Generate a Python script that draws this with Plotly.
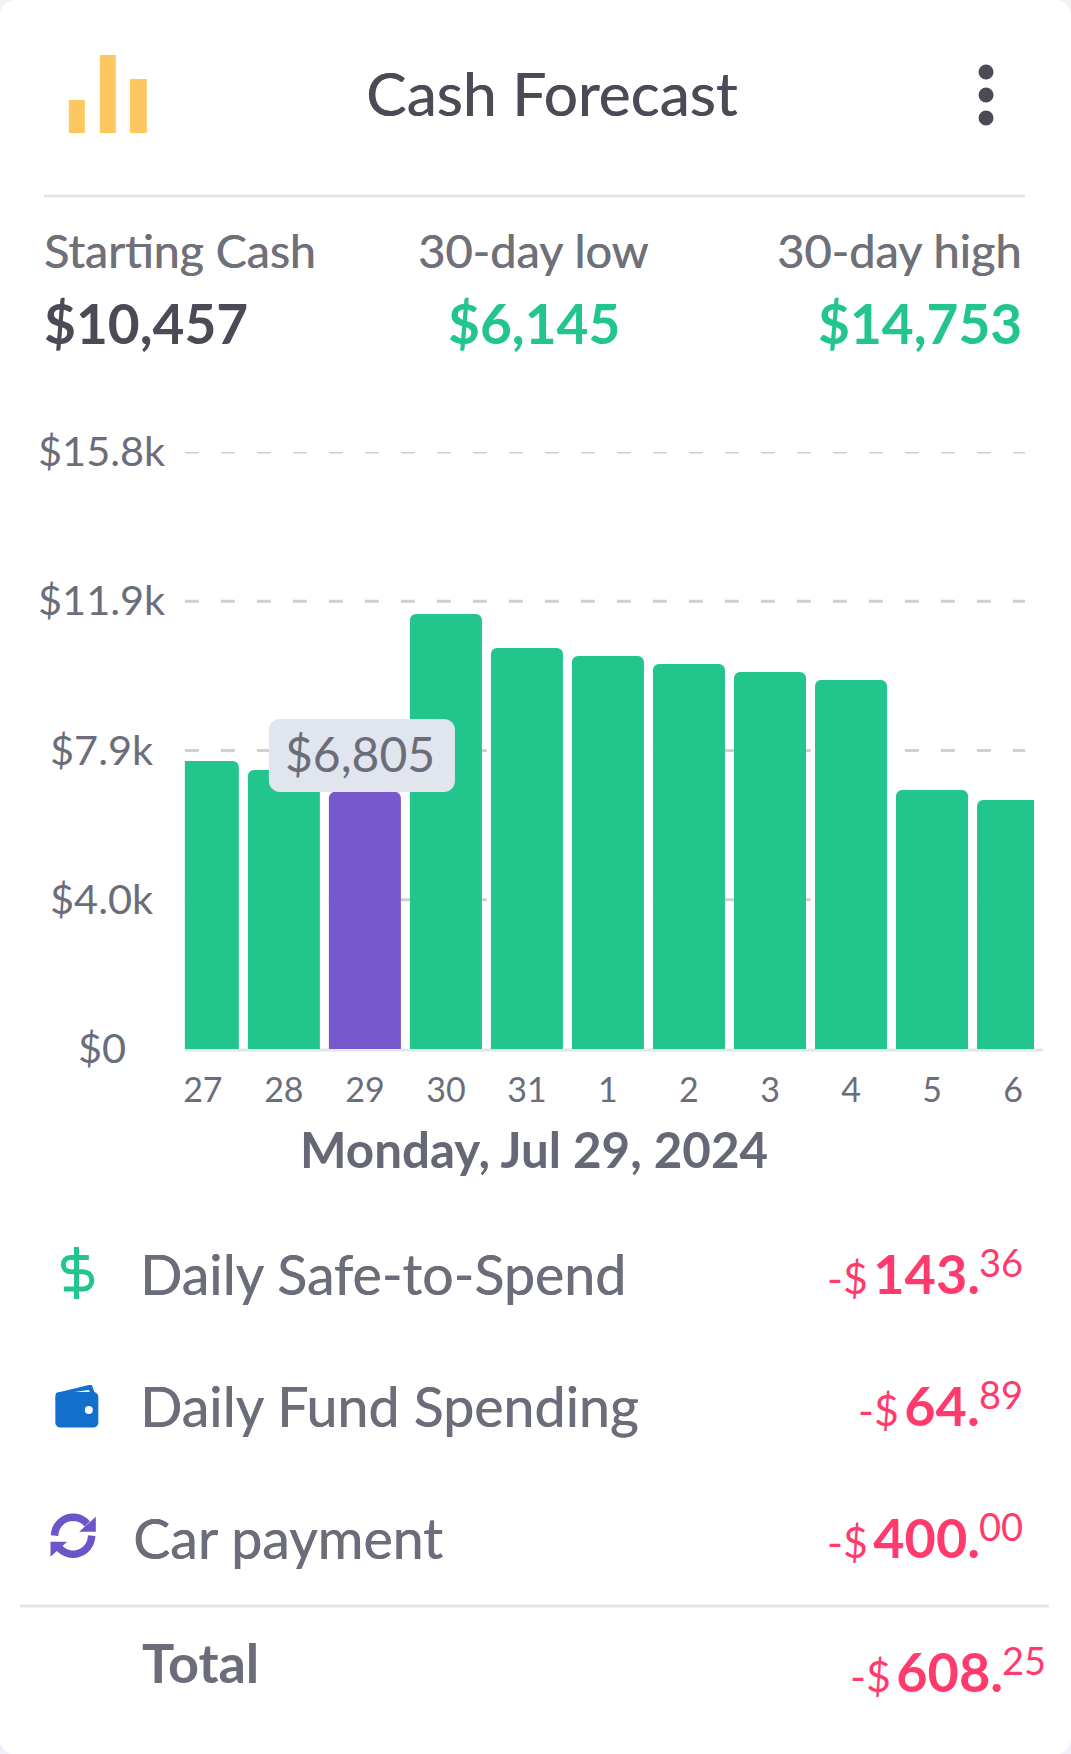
import math
import plotly.graph_objects as go

# page size of the card
W = 1071
H = 1754

# chart values
days = ['27', '28', '29', '30', '31', '1', '2', '3', '4', '5', '6']
balances = [7622, 7384, 6805, 11513, 10613, 10401, 10190, 9978, 9766, 6855, 6590]
selected_day = 2

y_ticks = [0, 3950, 7900, 11850, 15800]
y_tick_labels = ['$0', '$4.0k', '$7.9k', '$11.9k', '$15.8k']

# summary numbers above the chart
starting_cash = '$10,457'
low_cash = '$6,145'
high_cash = '$14,753'
date_label = 'Monday, Jul 29, 2024'

# rows under the chart
row_labels = ['Daily Safe-to-Spend', 'Daily Fund Spending', 'Car payment', 'Total']
row_dollars = ['143', '64', '400', '608']
row_cents = ['36', '89', '00', '25']

FONT = 'Lato'
GREEN = '#22C58B'
PURPLE = '#7759CC'
DARK = '#4A4B57'
GREY = '#6B6D7A'
LIGHT = '#E1E5EE'
PINK = '#FF3B6E'
BLUE = '#1270CC'
YELLOW = '#FFC75F'


# the photographed page comes out slightly squeezed to the right, pull the left side back
def px(x):
    return (x - 2.2 * (1 - x / 1040)) / W


def py(y):
    return 1 - y / H


shapes = []
annotations = []


def path_shape(d, fill=None, line_color=None, line_width=0, layer='above'):
    s = dict(type='path', path=d, xref='paper', yref='paper', layer=layer,
             line=dict(color=line_color or 'rgba(0,0,0,0)', width=line_width))
    if fill:
        s['fillcolor'] = fill
    shapes.append(s)


def pts(points, close=False):
    d = ' '.join(('M' if i == 0 else 'L') + f'{px(x):.5f},{py(y):.5f}' for i, (x, y) in enumerate(points))
    return d + (' Z' if close else '')


def round_rect(x0, y0, x1, y1, r, fill, layer='above'):
    k = r * 0.45
    d = (f'M{px(x0 + r):.5f},{py(y0):.5f} L{px(x1 - r):.5f},{py(y0):.5f} '
         f'C{px(x1 - k):.5f},{py(y0):.5f} {px(x1):.5f},{py(y0 + k):.5f} {px(x1):.5f},{py(y0 + r):.5f} '
         f'L{px(x1):.5f},{py(y1 - r):.5f} '
         f'C{px(x1):.5f},{py(y1 - k):.5f} {px(x1 - k):.5f},{py(y1):.5f} {px(x1 - r):.5f},{py(y1):.5f} '
         f'L{px(x0 + r):.5f},{py(y1):.5f} '
         f'C{px(x0 + k):.5f},{py(y1):.5f} {px(x0):.5f},{py(y1 - k):.5f} {px(x0):.5f},{py(y1 - r):.5f} '
         f'L{px(x0):.5f},{py(y0 + r):.5f} '
         f'C{px(x0):.5f},{py(y0 + k):.5f} {px(x0 + k):.5f},{py(y0):.5f} {px(x0 + r):.5f},{py(y0):.5f} Z')
    path_shape(d, fill=fill, layer=layer)


def hline(x0, x1, y, color, width, dash='solid', yref='paper', layer='above'):
    shapes.append(dict(type='line', xref='paper', yref=yref, x0=px(x0), x1=px(x1),
                       y0=y, y1=y, layer=layer, line=dict(color=color, width=width, dash=dash)))


def circle(cx, cy, r, color):
    shapes.append(dict(type='circle', xref='paper', yref='paper', x0=px(cx - r), x1=px(cx + r),
                       y0=py(cy - r), y1=py(cy + r), fillcolor=color, line=dict(width=0)))


# Lato has no medium cut, a thin shadow thickens the regular one
def medium(color):
    return f'0.5px 0 0 {color}'


def label(text, x, y, size, color, anchor='left', weight=None, shadow=None):
    f = dict(family=FONT, size=size, color=color)
    if weight:
        f['weight'] = weight
    if shadow:
        f['shadow'] = shadow
    annotations.append(dict(text=text, x=px(x), y=py(y - 2), xref='paper', yref='paper',
                            xanchor=anchor, yanchor='middle', showarrow=False, font=f))


# card with rounded corners
round_rect(0, 0, W, H, 15, 'white', layer='below')

# chart icon, top left
for x0, x1, top in [(69, 85, 100), (100, 116, 55), (130, 147, 79)]:
    path_shape(pts([(x0, top), (x1, top), (x1, 133), (x0, 133)], close=True), fill=YELLOW)

# menu dots
for cy in [72, 95, 118]:
    circle(986, cy, 7.5, DARK)

label('Cash Forecast', 552, 94, 60.5, DARK, anchor='center', shadow=medium(DARK))
hline(44, 1025, py(196), LIGHT, 3)

HEAD = '#707078'
label('Starting Cash', 42, 252, 46.5, HEAD, shadow=medium(HEAD))
label('30-day low', 534, 252, 47, HEAD, anchor='center', shadow=medium(HEAD))
label('30-day high', 1023, 252, 47, HEAD, anchor='right', shadow=medium(HEAD))
label(starting_cash, 42, 325, 55, DARK, weight=700)
label(low_cash, 534, 325, 55, GREEN, anchor='center', weight=700)
label(high_cash, 1024, 325, 55, GREEN, anchor='right', weight=700)

# dashed grid lines and centred axis labels
for tick, text in zip(y_ticks, y_tick_labels):
    if tick > 0:
        hline(185, 1025, tick, '#D0D0D3', 3, dash='14px,22px', yref='y', layer='below')
    annotations.append(dict(text=text, x=px(102), xref='paper', y=tick, yref='y',
                            xanchor='center', yanchor='middle', showarrow=False, yshift=2,
                            font=dict(family=FONT, size=41.5, color=GREY)))
hline(185, 1043, py(1050), LIGHT, 3, layer='below')

# tooltip over the selected bar
round_rect(269, 719, 455, 792, 11, LIGHT)
label(f'${balances[selected_day]:,}', 360, 755, 48, GREY, anchor='center')

label(date_label, 534, 1151, 49.3, '#666875', anchor='center', weight=700)

# dollar icon
path_shape(pts([(76.7, 1247), (76.7, 1299)]), line_color=GREEN, line_width=5)
path_shape(f'M{px(89):.5f},{py(1257.5):.5f} L{px(71):.5f},{py(1257.5):.5f} '
           f'C{px(61):.5f},{py(1257.5):.5f} {px(61):.5f},{py(1271.7):.5f} {px(71):.5f},{py(1271.7):.5f} '
           f'L{px(83):.5f},{py(1271.7):.5f} '
           f'C{px(95):.5f},{py(1271.7):.5f} {px(95):.5f},{py(1289):.5f} {px(83):.5f},{py(1289):.5f} '
           f'L{px(64):.5f},{py(1289):.5f}', line_color=GREEN, line_width=5)

# wallet icon
path_shape(pts([(56, 1393), (89, 1385), (92, 1385), (95, 1393), (95, 1400), (56, 1400)], close=True), fill=BLUE)
path_shape(pts([(60, 1394), (89, 1390), (90, 1392), (60, 1394.5)], close=True), fill='white')
round_rect(55.5, 1392, 98.5, 1427.5, 5, BLUE)
circle(89, 1410, 4, 'white')

# refresh icon
cx, cy, r = 73.3, 1535.7, 18.5
top_arc = [(cx + r * math.cos(math.radians(a)), cy - r * math.sin(math.radians(a))) for a in range(180, 30, -10)]
bottom_arc = [(2 * cx - x, 2 * cy - y) for x, y in top_arc]
path_shape(pts(top_arc), line_color='#6C55C7', line_width=7.5)
path_shape(pts(bottom_arc), line_color='#6C55C7', line_width=7.5)
path_shape(pts([(79.3, 1531.7), (96, 1531.7), (96, 1516.7)], close=True), fill='#6C55C7')
path_shape(pts([(50.7, 1541.7), (67.3, 1541.7), (50.7, 1556.7)], close=True), fill='#6C55C7')

# rows with their amounts, the cents sit raised next to the dollars
row_y = [1275, 1407, 1539, 1664]
row_amount_y = [1275, 1407, 1539, 1673]
row_x = [138, 138, 131, 140]
row_right = [1025, 1025, 1025, 1048]
for i, text in enumerate(row_labels):
    if text == 'Total':
        label(text, row_x[i], row_y[i], 54, GREY, weight=700)
    else:
        label(text, row_x[i], row_y[i], 55.5, GREY, shadow=medium(GREY))
    label(row_cents[i], row_right[i], row_amount_y[i] - 11, 38, PINK, anchor='right')
    amount = f'<span style="font-size:43px">-$\u2009</span><b>{row_dollars[i]}.</b>'
    label(amount, row_right[i] - 43, row_amount_y[i], 54, PINK, anchor='right')
hline(20, 1049, py(1606), LIGHT, 3)

bar_colors = [PURPLE if i == selected_day else GREEN for i in range(len(days))]

fig = go.Figure(go.Bar(
    x=list(range(len(days))),
    y=balances,
    width=72 / 81,
    marker=dict(color=bar_colors, line=dict(width=0), cornerradius=6),
    hoverinfo='skip',
))

fig.update_xaxes(
    domain=[px(185), px(1034)],
    range=[-18 / 81, 10 + 21 / 81],
    tickmode='array',
    tickvals=list(range(len(days))),
    ticktext=days,
    tickfont=dict(family=FONT, size=34, color=GREY),
    ticks='',
    ticklabelstandoff=18,
    showgrid=False,
    zeroline=False,
    showline=False,
)
fig.update_yaxes(
    domain=[py(1049), py(452)],
    range=[0, 15800],
    tickmode='array',
    tickvals=y_ticks,
    showticklabels=False,
    ticks='',
    showgrid=False,
    zeroline=False,
    showline=False,
)

fig.update_layout(
    width=W,
    height=H,
    margin=dict(l=0, r=0, t=0, b=0),
    autosize=False,
    showlegend=False,
    paper_bgcolor='#EEF1F7',
    plot_bgcolor='rgba(0,0,0,0)',
    modebar=dict(bgcolor='rgba(0,0,0,0)', color='rgba(0,0,0,0)', activecolor='rgba(0,0,0,0)'),
    shapes=shapes,
    annotations=annotations,
)

fig.write_html("out.html", config=dict(displaylogo=False),
               post_script="document.body.style.margin='0';")
